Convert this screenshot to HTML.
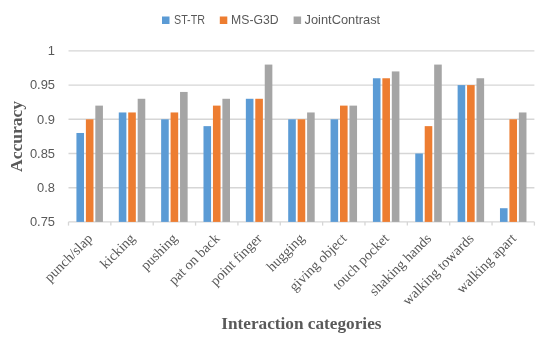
<!DOCTYPE html><html><head><meta charset="utf-8"><style>html,body{margin:0;padding:0;background:#fff}svg{display:block}text{font-family:"Liberation Sans",sans-serif;fill:#595959}.s{font-family:"Liberation Serif",serif}</style></head><body>
<svg width="550" height="340" viewBox="0 0 550 340">
<rect width="550" height="340" fill="#fff"/>
<line x1="68.5" x2="534.4" y1="221.90" y2="221.90" stroke="#D6D6D6" stroke-width="1.4"/>
<line x1="68.5" x2="534.4" y1="187.70" y2="187.70" stroke="#D6D6D6" stroke-width="1.4"/>
<line x1="68.5" x2="534.4" y1="153.50" y2="153.50" stroke="#D6D6D6" stroke-width="1.4"/>
<line x1="68.5" x2="534.4" y1="119.30" y2="119.30" stroke="#D6D6D6" stroke-width="1.4"/>
<line x1="68.5" x2="534.4" y1="85.10" y2="85.10" stroke="#D6D6D6" stroke-width="1.4"/>
<line x1="68.5" x2="534.4" y1="50.90" y2="50.90" stroke="#D6D6D6" stroke-width="1.4"/>
<line x1="68.50" x2="68.50" y1="221.9" y2="225.6" stroke="#D6D6D6" stroke-width="1.3"/>
<line x1="110.85" x2="110.85" y1="221.9" y2="225.6" stroke="#D6D6D6" stroke-width="1.3"/>
<line x1="153.21" x2="153.21" y1="221.9" y2="225.6" stroke="#D6D6D6" stroke-width="1.3"/>
<line x1="195.56" x2="195.56" y1="221.9" y2="225.6" stroke="#D6D6D6" stroke-width="1.3"/>
<line x1="237.92" x2="237.92" y1="221.9" y2="225.6" stroke="#D6D6D6" stroke-width="1.3"/>
<line x1="280.27" x2="280.27" y1="221.9" y2="225.6" stroke="#D6D6D6" stroke-width="1.3"/>
<line x1="322.63" x2="322.63" y1="221.9" y2="225.6" stroke="#D6D6D6" stroke-width="1.3"/>
<line x1="364.98" x2="364.98" y1="221.9" y2="225.6" stroke="#D6D6D6" stroke-width="1.3"/>
<line x1="407.34" x2="407.34" y1="221.9" y2="225.6" stroke="#D6D6D6" stroke-width="1.3"/>
<line x1="449.69" x2="449.69" y1="221.9" y2="225.6" stroke="#D6D6D6" stroke-width="1.3"/>
<line x1="492.05" x2="492.05" y1="221.9" y2="225.6" stroke="#D6D6D6" stroke-width="1.3"/>
<line x1="534.40" x2="534.40" y1="221.9" y2="225.6" stroke="#D6D6D6" stroke-width="1.3"/>
<rect x="76.43" y="132.98" width="7.6" height="88.92" fill="#5B9BD5"/>
<rect x="85.88" y="119.30" width="7.6" height="102.60" fill="#ED7D31"/>
<rect x="95.33" y="105.62" width="7.6" height="116.28" fill="#A5A5A5"/>
<rect x="118.78" y="112.46" width="7.6" height="109.44" fill="#5B9BD5"/>
<rect x="128.23" y="112.46" width="7.6" height="109.44" fill="#ED7D31"/>
<rect x="137.68" y="98.78" width="7.6" height="123.12" fill="#A5A5A5"/>
<rect x="161.14" y="119.30" width="7.6" height="102.60" fill="#5B9BD5"/>
<rect x="170.59" y="112.46" width="7.6" height="109.44" fill="#ED7D31"/>
<rect x="180.04" y="91.94" width="7.6" height="129.96" fill="#A5A5A5"/>
<rect x="203.49" y="126.14" width="7.6" height="95.76" fill="#5B9BD5"/>
<rect x="212.94" y="105.62" width="7.6" height="116.28" fill="#ED7D31"/>
<rect x="222.39" y="98.78" width="7.6" height="123.12" fill="#A5A5A5"/>
<rect x="245.85" y="98.78" width="7.6" height="123.12" fill="#5B9BD5"/>
<rect x="255.30" y="98.78" width="7.6" height="123.12" fill="#ED7D31"/>
<rect x="264.75" y="64.58" width="7.6" height="157.32" fill="#A5A5A5"/>
<rect x="288.20" y="119.30" width="7.6" height="102.60" fill="#5B9BD5"/>
<rect x="297.65" y="119.30" width="7.6" height="102.60" fill="#ED7D31"/>
<rect x="307.10" y="112.46" width="7.6" height="109.44" fill="#A5A5A5"/>
<rect x="330.55" y="119.30" width="7.6" height="102.60" fill="#5B9BD5"/>
<rect x="340.00" y="105.62" width="7.6" height="116.28" fill="#ED7D31"/>
<rect x="349.45" y="105.62" width="7.6" height="116.28" fill="#A5A5A5"/>
<rect x="372.91" y="78.26" width="7.6" height="143.64" fill="#5B9BD5"/>
<rect x="382.36" y="78.26" width="7.6" height="143.64" fill="#ED7D31"/>
<rect x="391.81" y="71.42" width="7.6" height="150.48" fill="#A5A5A5"/>
<rect x="415.26" y="153.50" width="7.6" height="68.40" fill="#5B9BD5"/>
<rect x="424.71" y="126.14" width="7.6" height="95.76" fill="#ED7D31"/>
<rect x="434.16" y="64.58" width="7.6" height="157.32" fill="#A5A5A5"/>
<rect x="457.62" y="85.10" width="7.6" height="136.80" fill="#5B9BD5"/>
<rect x="467.07" y="85.10" width="7.6" height="136.80" fill="#ED7D31"/>
<rect x="476.52" y="78.26" width="7.6" height="143.64" fill="#A5A5A5"/>
<rect x="499.97" y="208.22" width="7.6" height="13.68" fill="#5B9BD5"/>
<rect x="509.42" y="119.30" width="7.6" height="102.60" fill="#ED7D31"/>
<rect x="518.87" y="112.46" width="7.6" height="109.44" fill="#A5A5A5"/>
<text x="55" y="226.10" font-size="12.9" text-anchor="end">0.75</text>
<text x="55" y="191.90" font-size="12.9" text-anchor="end">0.8</text>
<text x="55" y="157.70" font-size="12.9" text-anchor="end">0.85</text>
<text x="55" y="123.50" font-size="12.9" text-anchor="end">0.9</text>
<text x="55" y="89.30" font-size="12.9" text-anchor="end">0.95</text>
<text x="55" y="55.10" font-size="12.9" text-anchor="end">1</text>
<rect x="162" y="16.5" width="7.5" height="7.5" fill="#5B9BD5"/>
<text x="174" y="24.4" font-size="12.2" textLength="31" lengthAdjust="spacingAndGlyphs">ST-TR</text>
<rect x="219.8" y="16.5" width="7.5" height="7.5" fill="#ED7D31"/>
<text x="231.1" y="24.4" font-size="12.2" textLength="47.5" lengthAdjust="spacingAndGlyphs">MS-G3D</text>
<rect x="293.6" y="16.5" width="7.5" height="7.5" fill="#A5A5A5"/>
<text x="304.5" y="24.4" font-size="12.2" textLength="75.7" lengthAdjust="spacingAndGlyphs">JointContrast</text>
<text class="s" font-size="14.2" text-anchor="end" transform="translate(93.38,239.30) rotate(-45)">punch/slap</text>
<text class="s" font-size="14.2" text-anchor="end" transform="translate(135.73,239.30) rotate(-45)">kicking</text>
<text class="s" font-size="14.2" text-anchor="end" transform="translate(178.09,239.30) rotate(-45)">pushing</text>
<text class="s" font-size="14.2" text-anchor="end" transform="translate(220.44,239.30) rotate(-45)">pat on back</text>
<text class="s" font-size="14.2" text-anchor="end" transform="translate(262.80,239.30) rotate(-45)">point finger</text>
<text class="s" font-size="14.2" text-anchor="end" transform="translate(305.15,239.30) rotate(-45)">hugging</text>
<text class="s" font-size="14.2" text-anchor="end" transform="translate(347.50,239.30) rotate(-45)">giving object</text>
<text class="s" font-size="14.2" text-anchor="end" transform="translate(389.86,239.30) rotate(-45)">touch pocket</text>
<text class="s" font-size="14.2" text-anchor="end" transform="translate(432.21,239.30) rotate(-45)">shaking hands</text>
<text class="s" font-size="14.2" text-anchor="end" transform="translate(474.57,239.30) rotate(-45)">walking towards</text>
<text class="s" font-size="14.2" text-anchor="end" transform="translate(516.92,239.30) rotate(-45)">walking apart</text>
<text class="s" font-weight="bold" font-size="17.5" x="221.3" y="328.9" textLength="160.2" lengthAdjust="spacingAndGlyphs">Interaction categories</text>
<text class="s" font-weight="bold" font-size="17.5" text-anchor="middle" transform="translate(22.4,136.5) rotate(-90)">Accuracy</text>
</svg></body></html>
